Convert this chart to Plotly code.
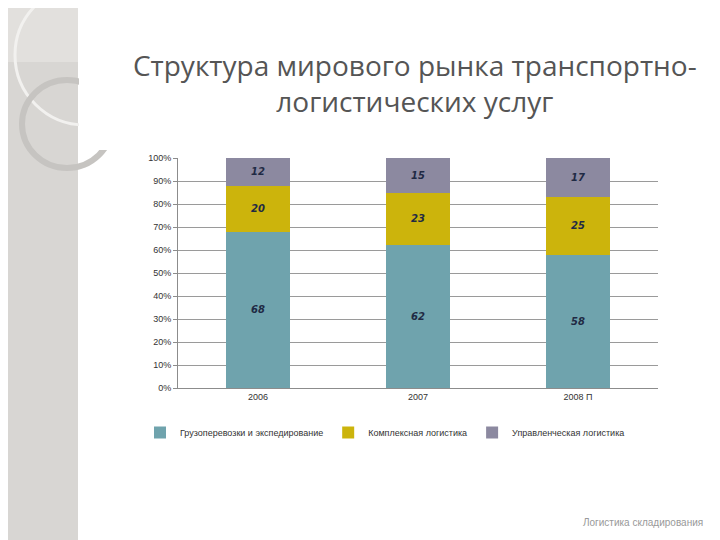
import plotly.graph_objects as go

years = ["2006", "2007", "2008 П"]
series_names = ["Грузоперевозки и экспедирование", "Комплексная логистика", "Управленческая логистика"]
freight = [68, 62, 58]
complex_log = [20, 23, 25]
managed_log = [12, 15, 17]
y_ticks = [0, 10, 20, 30, 40, 50, 60, 70, 80, 90, 100]

COLORS = ["#6fa3ad", "#ccb40c", "#8c89a0"]

# plot area on the page: left 178px, width 480px, bottom 388px, height 230px
def px_x(p):
    return (p - 178) / 480


def px_y(p):
    return (388 - p) / 230


fig = go.Figure()
for name, vals, clr in zip(series_names, [freight, complex_log, managed_log], COLORS):
    fig.add_trace(
        go.Bar(
            x=years,
            y=vals,
            name=name,
            marker=dict(color=clr, line=dict(width=0)),
            text=vals,
            textposition="inside",
            insidetextanchor="middle",
            texttemplate="<b><i>%{text}</i></b>",
            textfont=dict(color="#1f2a44", size=10, family="DejaVu Sans"),
        )
    )

# left decorative strip with circles
fig.add_shape(type="rect", xref="paper", yref="paper", x0=px_x(-20), x1=px_x(78), y0=px_y(560), y1=px_y(-20),
              fillcolor="#d8d6d3", line=dict(width=0), layer="below")
fig.add_shape(type="rect", xref="paper", yref="paper", x0=px_x(0), x1=px_x(78), y0=px_y(62), y1=px_y(-20),
              fillcolor="#e2e0dd", line=dict(width=0), layer="below")
fig.add_shape(type="circle", xref="paper", yref="paper", x0=px_x(15), x1=px_x(155), y0=px_y(125), y1=px_y(-15),
              line=dict(color="#f2f1ef", width=3))
fig.add_shape(type="circle", xref="paper", yref="paper", x0=px_x(22), x1=px_x(112), y0=px_y(168), y1=px_y(80),
              line=dict(color="#c6c4c1", width=6))
fig.add_shape(type="rect", xref="paper", yref="paper", x0=px_x(79), x1=px_x(170), y0=px_y(150), y1=px_y(-20),
              fillcolor="white", line=dict(width=0))

fig.update_layout(
    width=720,
    height=540,
    barmode="stack",
    bargap=0.6,
    paper_bgcolor="white",
    plot_bgcolor="white",
    margin=dict(l=170, r=70, t=150, b=160, autoexpand=False),
    font=dict(family="Liberation Sans", color="#333"),
    title=dict(
        text="Структура мирового рынка транспортно-<br>логистических услуг",
        x=0.565, xanchor="center", y=0.875, yanchor="middle",
        font=dict(family="Open Sans", size=28, color="#555"),
    ),
    yaxis=dict(
        range=[0, 100], tickvals=y_ticks, ticktext=[f"{v}%" for v in y_ticks],
        showgrid=True, gridcolor="#9a9a9a", gridwidth=1,
        tickfont=dict(size=9, color="#333"), showline=True, linecolor="#8c8c8c",
        ticks="outside", ticklen=4, tickcolor="#8c8c8c",
    ),
    xaxis=dict(
        showline=True, linecolor="#8c8c8c", tickfont=dict(size=9, color="#333"),
        ticks="outside", ticklen=0,
    ),
    legend=dict(
        orientation="h", x=px_x(140), xanchor="left", y=px_y(418), yanchor="top",
        font=dict(size=9, color="#333"), traceorder="normal",
        bgcolor="rgba(0,0,0,0)", itemwidth=30, entrywidthmode="pixels", entrywidth=0,
    ),
    showlegend=True,
    annotations=[
        dict(text="Логистика складирования", xref="paper", yref="paper", x=px_x(705), y=px_y(522),
             xanchor="right", yanchor="middle", showarrow=False, font=dict(size=10, color="#999")),
    ],
)

fig.write_html("out.html")
